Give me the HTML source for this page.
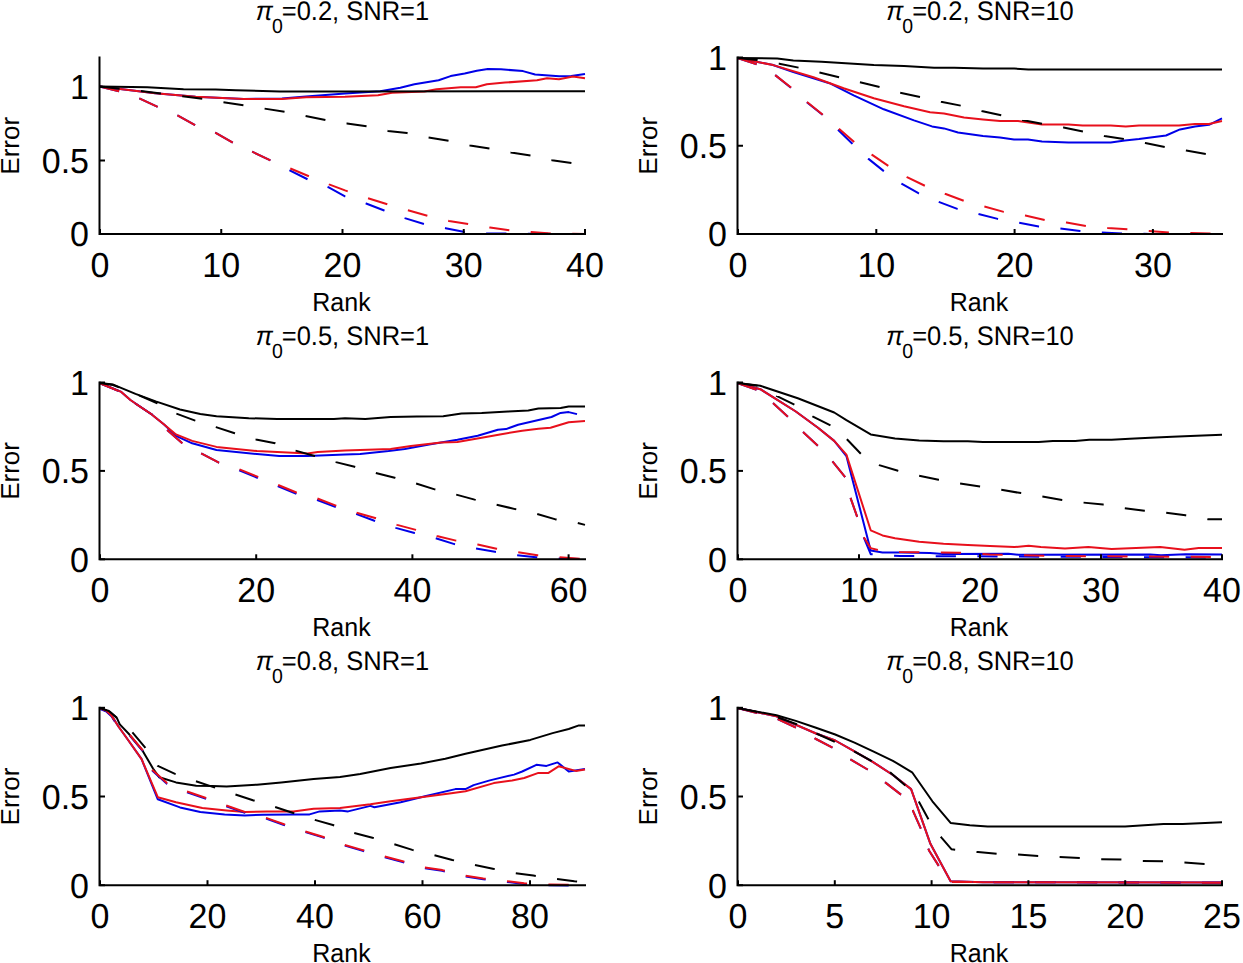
<!DOCTYPE html>
<html><head><meta charset="utf-8"><style>
html,body{margin:0;padding:0;background:#fff;}
body{width:1243px;height:963px;overflow:hidden;}
svg{display:block;text-rendering:geometricPrecision;}
text{font-family:"Liberation Sans",sans-serif;fill:#000;}
.tk{font-size:34px;}
.rk{font-size:25px;}
.er{font-size:26px;}
.tt{font-size:25.5px;}
.sub{font-size:19.5px;}
.pi{font-style:italic;}
</style></head><body>
<svg width="1243" height="963" viewBox="0 0 1243 963">
<rect width="1243" height="963" fill="#fff"/>
<polyline points="99.5,86.5 155.3,93.2 195.6,96.7 243.8,98.9 282.0,98.5 306.0,96.5 345.0,93.6 380.2,91.2 400.3,87.8 414.4,84.2 438.6,80.2 450.6,76.1 464.7,73.5 476.8,70.7 487.8,69.1 500.9,69.3 523.0,71.1 535.1,74.5 559.2,76.3 571.3,76.1 585.0,74.1" fill="none" stroke="#0000e8" stroke-width="2.0" stroke-linejoin="round"/>
<polyline points="99.5,86.5 155.3,93.2 195.6,96.7 243.8,98.9 282.0,98.9 306.2,97.3 345.0,96.7 378.0,95.3 392.0,92.8 424.5,91.6 436.5,89.2 460.7,87.2 475.8,87.2 486.8,84.2 505.0,82.6 537.0,80.2 547.0,78.2 559.0,79.2 573.0,76.6 585.0,78.2" fill="none" stroke="#e8101c" stroke-width="2.0" stroke-linejoin="round"/>
<polyline points="99.5,86.5 147.3,87.2 183.5,89.2 215.7,89.6 235.8,90.2 280.0,91.4 345.0,91.4 585.0,91.2" fill="none" stroke="#000" stroke-width="2.0" stroke-linejoin="round"/>
<polyline points="99.5,86.5 119.0,91.2 139.0,98.3 158.4,107.3 177.5,115.4 195.6,125.4 215.7,132.9 233.4,142.9 252.0,151.6 271.0,160.6 289.7,170.3 307.6,179.3 328.3,187.2 345.0,196.4 366.1,203.5 384.2,210.5 404.8,218.1 424.1,224.0 445.6,228.2 464.7,232.0 486.8,233.4 507.0,233.6 585.0,234.0" fill="none" stroke="#0000e8" stroke-width="2.0" stroke-dasharray="20.2 21.45" stroke-linejoin="round"/>
<polyline points="99.5,86.5 119.0,91.2 139.0,98.3 158.4,107.3 177.5,115.4 195.6,125.4 215.7,132.9 233.4,142.9 252.0,151.6 271.0,160.6 291.0,168.7 309.0,176.3 329.0,184.4 345.0,190.4 368.0,198.2 388.0,204.5 408.0,210.3 428.0,215.9 449.0,221.0 469.0,224.2 490.0,227.6 510.0,230.4 531.0,232.0 551.0,233.4 585.0,234.0" fill="none" stroke="#e8101c" stroke-width="2.0" stroke-dasharray="20.2 21.45" stroke-linejoin="round"/>
<polyline points="99.5,86.5 140.0,91.0 182.5,96.3 202.6,98.9 243.8,105.3 285.0,111.9 325.9,120.0 347.0,123.4 367.0,126.4 388.0,130.9 407.0,133.1 428.5,137.5 449.0,140.9 470.0,145.5 490.0,148.6 511.0,152.6 531.0,155.6 552.0,160.2 572.0,163.2 585.0,165.5" fill="none" stroke="#000" stroke-width="2.0" stroke-dasharray="20.2 21.45" stroke-linejoin="round"/>
<path d="M99.5,57.5 V234 H585" fill="none" stroke="#000" stroke-width="2.0" stroke-linecap="square"/>
<line x1="100" y1="234" x2="100" y2="229" stroke="#000" stroke-width="2.0"/>
<line x1="221.25" y1="234" x2="221.25" y2="229" stroke="#000" stroke-width="2.0"/>
<line x1="342.5" y1="234" x2="342.5" y2="229" stroke="#000" stroke-width="2.0"/>
<line x1="463.75" y1="234" x2="463.75" y2="229" stroke="#000" stroke-width="2.0"/>
<line x1="585" y1="234" x2="585" y2="229" stroke="#000" stroke-width="2.0"/>
<line x1="99.5" y1="234" x2="105" y2="234" stroke="#000" stroke-width="2.0"/>
<line x1="99.5" y1="160.5" x2="105" y2="160.5" stroke="#000" stroke-width="2.0"/>
<line x1="99.5" y1="86.9" x2="105" y2="86.9" stroke="#000" stroke-width="2.0"/>
<text transform="translate(100,276.5) scale(1,1.025)" text-anchor="middle" class="tk">0</text>
<text transform="translate(221.25,276.5) scale(1,1.025)" text-anchor="middle" class="tk">10</text>
<text transform="translate(342.5,276.5) scale(1,1.025)" text-anchor="middle" class="tk">20</text>
<text transform="translate(463.75,276.5) scale(1,1.025)" text-anchor="middle" class="tk">30</text>
<text transform="translate(585,276.5) scale(1,1.025)" text-anchor="middle" class="tk">40</text>
<text transform="translate(89.0,246.4) scale(1,1.025)" text-anchor="end" class="tk">0</text>
<text transform="translate(89.0,172.9) scale(1,1.025)" text-anchor="end" class="tk">0.5</text>
<text transform="translate(89.0,99.30000000000001) scale(1,1.025)" text-anchor="end" class="tk">1</text>
<text transform="translate(341.5,310.7) scale(1,1.05)" text-anchor="middle" class="rk">Rank</text>
<text transform="translate(19.25,145.75) rotate(-90) scale(1,1.0)" text-anchor="middle" class="er">Error</text>
<text transform="translate(342.5,19.5) scale(1,1.05)" text-anchor="middle" class="tt"><tspan class="pi">π</tspan><tspan dx="-1" dy="13" class="sub">0</tspan><tspan dx="-1" dy="-13">=0.2, SNR=1</tspan></text>
<polyline points="737.5,58.0 773.0,65.0 793.3,72.1 829.5,83.2 853.7,95.3 883.8,109.3 914.0,120.4 932.0,126.4 944.0,128.4 958.0,132.5 983.0,136.1 1000.0,137.5 1014.0,139.5 1028.0,139.5 1042.0,141.5 1068.5,142.5 1110.7,142.5 1124.8,140.5 1139.0,139.1 1166.0,135.5 1180.0,129.4 1195.0,126.4 1209.0,124.8 1222.0,118.4" fill="none" stroke="#0000e8" stroke-width="2.0" stroke-linejoin="round"/>
<polyline points="737.5,58.0 773.2,65.1 813.5,77.2 843.6,88.2 873.8,98.3 904.0,106.3 930.0,112.3 944.0,113.4 964.0,117.4 983.0,119.4 1000.0,121.0 1018.0,121.0 1042.0,124.4 1068.5,124.4 1082.6,125.4 1110.7,125.4 1125.8,126.4 1139.0,125.4 1179.0,125.4 1195.0,124.0 1209.0,124.0 1222.0,121.0" fill="none" stroke="#e8101c" stroke-width="2.0" stroke-linejoin="round"/>
<polyline points="737.5,58.0 777.2,58.4 793.3,60.5 821.5,61.7 873.8,65.1 904.0,66.1 934.1,67.7 954.2,67.7 983.0,68.5 1014.2,68.5 1028.3,69.5 1222.0,69.5" fill="none" stroke="#000" stroke-width="2.0" stroke-linejoin="round"/>
<polyline points="737.5,58.0 756.0,64.1 775.2,75.1 790.9,87.8 806.4,101.9 822.5,114.8 837.6,129.4 852.1,143.5 868.2,158.6 883.8,171.1 901.5,183.7 918.4,193.2 938.6,201.8 957.3,208.9 978.0,213.9 997.7,218.9 1018.6,222.6 1038.7,226.4 1060.0,228.4 1080.0,231.0 1101.0,232.4 1122.0,233.4 1150.0,234.0 1222.0,234.0" fill="none" stroke="#0000e8" stroke-width="2.0" stroke-dasharray="20.2 21.45" stroke-linejoin="round"/>
<polyline points="737.5,58.0 756.0,64.0 775.0,75.0 791.0,87.5 806.4,101.5 822.5,114.5 838.6,128.4 854.3,142.1 871.8,154.6 888.5,166.0 907.0,177.1 925.0,185.8 945.0,193.8 963.7,200.8 984.4,206.5 1003.7,211.9 1025.3,215.5 1044.8,220.0 1066.5,222.6 1086.2,226.0 1107.7,228.0 1127.8,229.4 1149.0,231.0 1169.0,232.6 1190.0,233.0 1210.0,233.4 1222.0,233.6" fill="none" stroke="#e8101c" stroke-width="2.0" stroke-dasharray="20.2 21.45" stroke-linejoin="round"/>
<polyline points="737.5,58.0 757.0,60.0 779.3,63.7 799.0,67.7 819.5,72.5 839.0,77.2 860.0,82.2 880.0,87.2 900.0,92.8 920.0,96.9 941.0,101.7 961.0,105.7 981.6,110.9 1001.7,115.4 1022.2,120.0 1042.4,123.8 1063.5,127.4 1083.0,131.5 1104.3,136.1 1124.2,139.1 1145.3,143.1 1165.0,147.1 1186.2,150.6 1206.3,154.0 1222.0,156.5" fill="none" stroke="#000" stroke-width="2.0" stroke-dasharray="20.2 21.45" stroke-linejoin="round"/>
<path d="M737.5,57.5 V234 H1222" fill="none" stroke="#000" stroke-width="2.0" stroke-linecap="square"/>
<line x1="738" y1="234" x2="738" y2="229" stroke="#000" stroke-width="2.0"/>
<line x1="876.3" y1="234" x2="876.3" y2="229" stroke="#000" stroke-width="2.0"/>
<line x1="1014.6" y1="234" x2="1014.6" y2="229" stroke="#000" stroke-width="2.0"/>
<line x1="1152.9" y1="234" x2="1152.9" y2="229" stroke="#000" stroke-width="2.0"/>
<line x1="737.5" y1="234" x2="743" y2="234" stroke="#000" stroke-width="2.0"/>
<line x1="737.5" y1="145.75" x2="743" y2="145.75" stroke="#000" stroke-width="2.0"/>
<line x1="737.5" y1="57.5" x2="743" y2="57.5" stroke="#000" stroke-width="2.0"/>
<text transform="translate(738,276.5) scale(1,1.025)" text-anchor="middle" class="tk">0</text>
<text transform="translate(876.3,276.5) scale(1,1.025)" text-anchor="middle" class="tk">10</text>
<text transform="translate(1014.6,276.5) scale(1,1.025)" text-anchor="middle" class="tk">20</text>
<text transform="translate(1152.9,276.5) scale(1,1.025)" text-anchor="middle" class="tk">30</text>
<text transform="translate(727.0,246.4) scale(1,1.025)" text-anchor="end" class="tk">0</text>
<text transform="translate(727.0,158.15) scale(1,1.025)" text-anchor="end" class="tk">0.5</text>
<text transform="translate(727.0,69.9) scale(1,1.025)" text-anchor="end" class="tk">1</text>
<text transform="translate(979.0,310.7) scale(1,1.05)" text-anchor="middle" class="rk">Rank</text>
<text transform="translate(657.25,145.75) rotate(-90) scale(1,1.0)" text-anchor="middle" class="er">Error</text>
<text transform="translate(980.0,19.5) scale(1,1.05)" text-anchor="middle" class="tt"><tspan class="pi">π</tspan><tspan dx="-1" dy="13" class="sub">0</tspan><tspan dx="-1" dy="-13">=0.2, SNR=10</tspan></text>
<polyline points="99.5,383.0 121.3,391.9 130.4,400.0 151.7,414.5 163.8,424.3 176.0,435.8 192.2,443.3 216.5,450.0 257.0,454.0 279.2,456.0 307.6,456.0 345.0,454.6 360.2,454.0 388.6,451.0 404.8,448.9 429.1,444.5 457.4,439.8 477.7,435.8 497.9,429.7 506.0,429.1 518.1,424.7 551.5,417.0 560.6,412.9 568.7,412.1 577.0,414.1" fill="none" stroke="#0000e8" stroke-width="2.0" stroke-linejoin="round"/>
<polyline points="99.5,383.0 121.3,391.9 130.4,400.0 151.7,414.5 163.8,424.3 176.0,434.4 192.2,440.9 216.5,446.9 257.0,451.0 287.3,452.6 307.6,453.4 317.7,452.0 345.0,450.6 360.2,450.0 390.6,448.9 410.9,445.9 441.2,442.5 457.4,441.9 481.7,437.8 499.9,434.4 522.2,430.7 538.4,428.7 550.5,427.7 568.7,422.2 585.0,421.0" fill="none" stroke="#e8101c" stroke-width="2.0" stroke-linejoin="round"/>
<polyline points="99.5,383.0 113.2,384.6 135.5,393.9 155.7,401.4 180.0,409.5 200.3,414.1 216.5,416.2 248.8,418.2 277.2,419.0 333.9,419.0 345.0,418.2 365.3,419.0 390.6,417.0 416.9,416.6 443.2,416.2 461.5,413.5 481.7,412.9 508.0,411.5 528.3,410.5 538.4,408.5 560.6,408.1 568.7,406.4 585.0,406.4" fill="none" stroke="#000" stroke-width="2.0" stroke-linejoin="round"/>
<polyline points="99.5,383.0 121.0,392.0 130.0,400.0 152.0,414.5 166.9,429.7 182.0,442.9 200.3,453.0 218.9,462.7 239.1,470.3 258.0,478.0 278.2,486.3 296.4,493.9 317.3,500.0 335.9,507.2 356.6,514.1 374.4,520.8 395.7,527.9 414.5,533.0 435.1,538.0 454.4,544.1 475.6,548.5 494.9,551.8 516.5,555.2 536.0,557.2 560.0,558.5 585.0,559.2" fill="none" stroke="#0000e8" stroke-width="2.0" stroke-dasharray="20.2 21.45" stroke-linejoin="round"/>
<polyline points="99.5,383.0 121.0,392.0 130.0,400.0 152.0,414.5 166.9,429.7 182.0,442.9 200.3,453.0 218.9,462.7 239.1,469.2 258.0,476.9 278.2,485.0 296.4,492.5 317.3,498.5 335.9,505.6 356.6,512.7 376.0,518.2 397.1,524.9 415.9,529.9 436.8,536.0 456.0,540.6 477.7,544.5 496.5,548.7 518.1,552.2 537.4,555.2 559.6,557.2 579.9,558.7 585.0,559.0" fill="none" stroke="#e8101c" stroke-width="2.0" stroke-dasharray="20.2 21.45" stroke-linejoin="round"/>
<polyline points="99.5,383.0 113.0,385.0 135.5,393.9 156.7,403.0 176.0,413.5 195.2,420.6 216.0,427.1 234.7,433.2 255.9,439.4 275.2,443.3 295.4,450.6 314.6,456.0 335.9,462.1 354.6,466.8 375.4,472.8 394.7,477.7 415.9,483.4 434.7,489.4 455.8,494.5 474.6,499.6 496.3,504.6 515.1,509.1 536.4,513.7 555.6,519.4 576.8,522.8 585.0,524.9" fill="none" stroke="#000" stroke-width="2.0" stroke-dasharray="20.2 21.45" stroke-linejoin="round"/>
<path d="M99.5,382.5 V559.3 H585" fill="none" stroke="#000" stroke-width="2.0" stroke-linecap="square"/>
<line x1="100" y1="559.3" x2="100" y2="554.3" stroke="#000" stroke-width="2.0"/>
<line x1="256.2" y1="559.3" x2="256.2" y2="554.3" stroke="#000" stroke-width="2.0"/>
<line x1="412.4" y1="559.3" x2="412.4" y2="554.3" stroke="#000" stroke-width="2.0"/>
<line x1="568.6" y1="559.3" x2="568.6" y2="554.3" stroke="#000" stroke-width="2.0"/>
<line x1="99.5" y1="559.3" x2="105" y2="559.3" stroke="#000" stroke-width="2.0"/>
<line x1="99.5" y1="470.9" x2="105" y2="470.9" stroke="#000" stroke-width="2.0"/>
<line x1="99.5" y1="382.5" x2="105" y2="382.5" stroke="#000" stroke-width="2.0"/>
<text transform="translate(100,601.8) scale(1,1.025)" text-anchor="middle" class="tk">0</text>
<text transform="translate(256.2,601.8) scale(1,1.025)" text-anchor="middle" class="tk">20</text>
<text transform="translate(412.4,601.8) scale(1,1.025)" text-anchor="middle" class="tk">40</text>
<text transform="translate(568.6,601.8) scale(1,1.025)" text-anchor="middle" class="tk">60</text>
<text transform="translate(89.0,571.6999999999999) scale(1,1.025)" text-anchor="end" class="tk">0</text>
<text transform="translate(89.0,483.29999999999995) scale(1,1.025)" text-anchor="end" class="tk">0.5</text>
<text transform="translate(89.0,394.9) scale(1,1.025)" text-anchor="end" class="tk">1</text>
<text transform="translate(341.5,636.0) scale(1,1.05)" text-anchor="middle" class="rk">Rank</text>
<text transform="translate(19.25,470.9) rotate(-90) scale(1,1.0)" text-anchor="middle" class="er">Error</text>
<text transform="translate(342.5,344.5) scale(1,1.05)" text-anchor="middle" class="tt"><tspan class="pi">π</tspan><tspan dx="-1" dy="13" class="sub">0</tspan><tspan dx="-1" dy="-13">=0.5, SNR=1</tspan></text>
<polyline points="737.5,383.0 760.3,389.2 795.8,411.5 818.0,427.7 834.2,440.9 846.4,456.0 870.7,550.5 882.5,552.4 901.8,552.4 930.0,553.0 943.0,553.9 1008.4,553.8 1018.5,554.8 1150.0,554.6 1161.0,555.2 1185.5,554.2 1222.0,554.6" fill="none" stroke="#0000e8" stroke-width="2.0" stroke-linejoin="round"/>
<polyline points="737.5,383.0 760.3,389.2 795.8,411.5 818.0,427.7 834.2,440.9 846.4,454.6 870.7,530.3 882.5,535.4 895.0,538.2 919.2,541.7 943.5,543.7 967.8,545.1 990.0,546.1 1014.4,547.1 1028.6,545.7 1040.8,547.1 1065.0,548.5 1088.3,547.1 1111.6,549.1 1135.9,548.1 1160.2,547.1 1184.5,549.8 1198.7,548.1 1222.0,548.1" fill="none" stroke="#e8101c" stroke-width="2.0" stroke-linejoin="round"/>
<polyline points="737.5,383.0 760.3,385.8 797.8,398.3 834.2,412.5 846.4,420.2 870.7,434.4 895.0,438.4 919.2,440.4 943.5,441.3 967.8,441.3 983.0,442.0 1038.7,441.9 1052.9,440.9 1075.2,440.9 1089.3,439.8 1111.6,439.8 1129.8,438.8 1150.1,437.8 1172.3,436.8 1196.6,435.8 1222.0,434.8" fill="none" stroke="#000" stroke-width="2.0" stroke-linejoin="round"/>
<polyline points="737.5,383.0 760.0,391.0 773.5,403.4 788.7,417.6 802.8,431.7 818.0,445.9 832.2,461.1 845.3,477.3 850.4,497.5 857.5,517.8 863.6,537.0 870.7,554.2 900.0,556.0 1222.0,557.5" fill="none" stroke="#0000e8" stroke-width="2.0" stroke-dasharray="20.2 21.45" stroke-linejoin="round"/>
<polyline points="737.5,383.0 760.0,391.0 773.5,403.4 788.7,417.6 802.8,431.7 818.0,445.9 832.2,461.1 845.3,477.3 850.4,497.5 857.5,517.8 863.6,537.0 870.7,548.1 880.0,550.5 900.0,552.0 960.0,552.8 990.0,554.5 1050.0,556.0 1222.0,557.0" fill="none" stroke="#e8101c" stroke-width="2.0" stroke-dasharray="20.2 21.45" stroke-linejoin="round"/>
<polyline points="737.5,383.0 760.0,386.0 776.5,395.9 794.7,404.8 813.0,416.6 831.2,425.7 847.4,439.8 861.0,454.0 870.7,461.0 879.2,465.1 898.0,470.8 918.8,475.7 938.5,479.7 959.7,483.4 980.0,486.4 1001.3,489.8 1020.9,493.1 1042.4,496.5 1062.0,500.0 1083.3,502.6 1103.1,504.6 1124.2,508.1 1144.4,510.7 1165.9,512.7 1185.5,515.3 1207.8,519.2 1222.0,519.2" fill="none" stroke="#000" stroke-width="2.0" stroke-dasharray="20.2 21.45" stroke-linejoin="round"/>
<path d="M737.5,382.5 V559.3 H1222" fill="none" stroke="#000" stroke-width="2.0" stroke-linecap="square"/>
<line x1="738" y1="559.3" x2="738" y2="554.3" stroke="#000" stroke-width="2.0"/>
<line x1="859" y1="559.3" x2="859" y2="554.3" stroke="#000" stroke-width="2.0"/>
<line x1="980" y1="559.3" x2="980" y2="554.3" stroke="#000" stroke-width="2.0"/>
<line x1="1101" y1="559.3" x2="1101" y2="554.3" stroke="#000" stroke-width="2.0"/>
<line x1="1222" y1="559.3" x2="1222" y2="554.3" stroke="#000" stroke-width="2.0"/>
<line x1="737.5" y1="559.3" x2="743" y2="559.3" stroke="#000" stroke-width="2.0"/>
<line x1="737.5" y1="470.9" x2="743" y2="470.9" stroke="#000" stroke-width="2.0"/>
<line x1="737.5" y1="382.5" x2="743" y2="382.5" stroke="#000" stroke-width="2.0"/>
<text transform="translate(738,601.8) scale(1,1.025)" text-anchor="middle" class="tk">0</text>
<text transform="translate(859,601.8) scale(1,1.025)" text-anchor="middle" class="tk">10</text>
<text transform="translate(980,601.8) scale(1,1.025)" text-anchor="middle" class="tk">20</text>
<text transform="translate(1101,601.8) scale(1,1.025)" text-anchor="middle" class="tk">30</text>
<text transform="translate(1222,601.8) scale(1,1.025)" text-anchor="middle" class="tk">40</text>
<text transform="translate(727.0,571.6999999999999) scale(1,1.025)" text-anchor="end" class="tk">0</text>
<text transform="translate(727.0,483.29999999999995) scale(1,1.025)" text-anchor="end" class="tk">0.5</text>
<text transform="translate(727.0,394.9) scale(1,1.025)" text-anchor="end" class="tk">1</text>
<text transform="translate(979.0,636.0) scale(1,1.05)" text-anchor="middle" class="rk">Rank</text>
<text transform="translate(657.25,470.9) rotate(-90) scale(1,1.0)" text-anchor="middle" class="er">Error</text>
<text transform="translate(980.0,344.5) scale(1,1.05)" text-anchor="middle" class="tt"><tspan class="pi">π</tspan><tspan dx="-1" dy="13" class="sub">0</tspan><tspan dx="-1" dy="-13">=0.5, SNR=10</tspan></text>
<polyline points="99.5,708.0 106.0,710.5 111.5,715.6 118.8,727.0 128.1,740.0 141.6,759.2 157.8,799.3 180.0,807.4 200.3,812.0 224.6,814.4 244.8,815.4 263.0,814.8 293.4,814.4 309.6,814.4 319.7,811.4 340.0,810.4 348.1,811.4 370.4,805.9 374.4,807.3 400.7,802.3 425.0,796.2 455.4,789.1 465.5,789.1 473.6,785.1 489.8,780.4 514.1,774.6 522.2,771.5 536.4,764.8 546.5,765.9 557.6,762.4 568.7,771.5 585.0,768.9" fill="none" stroke="#0000e8" stroke-width="2.0" stroke-linejoin="round"/>
<polyline points="99.5,708.0 106.0,710.5 111.5,715.6 118.8,727.0 128.1,740.0 141.6,759.2 157.8,797.2 176.0,802.3 202.3,808.0 226.6,810.4 244.8,812.0 267.1,811.4 293.4,811.4 313.6,808.8 340.0,808.0 370.4,804.3 390.6,801.3 421.0,797.2 451.3,793.2 465.5,791.2 493.8,783.1 512.1,780.4 524.2,778.0 538.4,772.9 548.5,772.9 558.6,766.3 575.8,770.9 585.0,769.5" fill="none" stroke="#e8101c" stroke-width="2.0" stroke-linejoin="round"/>
<polyline points="99.5,708.0 110.5,712.5 116.7,717.7 119.8,724.4 129.2,734.3 142.7,750.9 153.0,768.5 159.3,777.4 161.8,778.0 176.0,782.4 196.2,785.7 212.4,786.1 226.6,786.5 256.9,784.7 281.2,782.4 313.6,779.0 340.0,777.0 360.2,774.0 390.6,767.9 421.0,763.4 445.3,758.8 465.5,753.7 502.0,745.6 530.3,739.9 552.6,733.1 568.7,729.0 578.9,725.4 585.0,725.4" fill="none" stroke="#000" stroke-width="2.0" stroke-linejoin="round"/>
<polyline points="99.5,708.7 106.0,711.2 111.5,716.3 118.8,727.7 130.2,736.2 143.7,752.2 152.7,771.0 166.9,783.8 186.1,791.9 205.3,798.5 225.6,806.0 244.8,812.7 265.0,818.2 283.3,824.7 303.9,831.7 322.7,837.4 343.0,845.1 361.9,850.6 382.5,856.6 401.7,861.7 422.0,867.8 442.2,870.8 462.5,875.9 483.3,879.3 503.6,881.5 524.2,884.0 545.5,885.2 585.0,885.7" fill="none" stroke="#0000e8" stroke-width="2.0" stroke-dasharray="20.2 21.45" stroke-linejoin="round"/>
<polyline points="99.5,708.0 106.0,710.5 111.5,715.6 118.8,727.0 130.2,735.5 143.7,751.5 152.7,770.3 166.9,783.1 186.1,791.2 205.3,797.8 225.6,805.3 244.8,812.0 265.0,817.5 283.3,824.0 303.9,831.0 322.7,836.7 343.0,844.4 361.9,849.9 382.5,855.9 401.7,861.0 422.0,867.1 442.2,870.1 462.5,875.2 483.3,878.6 503.6,880.8 524.2,883.3 545.5,884.5 585.0,885.0" fill="none" stroke="#e8101c" stroke-width="2.0" stroke-dasharray="20.2 21.45" stroke-linejoin="round"/>
<polyline points="99.5,708.0 109.0,711.0 116.0,717.0 132.4,732.4 145.6,748.0 157.8,765.9 175.0,773.9 195.2,781.0 213.4,787.1 234.7,794.2 252.9,800.3 274.2,806.7 292.4,812.8 313.6,819.5 332.9,825.0 353.2,832.7 372.4,837.7 393.0,843.8 412.3,849.9 433.1,854.9 452.3,860.0 473.2,864.6 492.8,868.7 514.1,873.1 533.3,875.6 555.0,878.8 574.4,881.2 585.0,882.0" fill="none" stroke="#000" stroke-width="2.0" stroke-dasharray="20.2 21.45" stroke-linejoin="round"/>
<path d="M99.5,707.8 V885.2 H585" fill="none" stroke="#000" stroke-width="2.0" stroke-linecap="square"/>
<line x1="100" y1="885.2" x2="100" y2="880.2" stroke="#000" stroke-width="2.0"/>
<line x1="207.5" y1="885.2" x2="207.5" y2="880.2" stroke="#000" stroke-width="2.0"/>
<line x1="315" y1="885.2" x2="315" y2="880.2" stroke="#000" stroke-width="2.0"/>
<line x1="422.5" y1="885.2" x2="422.5" y2="880.2" stroke="#000" stroke-width="2.0"/>
<line x1="530" y1="885.2" x2="530" y2="880.2" stroke="#000" stroke-width="2.0"/>
<line x1="99.5" y1="885.2" x2="105" y2="885.2" stroke="#000" stroke-width="2.0"/>
<line x1="99.5" y1="796.5" x2="105" y2="796.5" stroke="#000" stroke-width="2.0"/>
<line x1="99.5" y1="707.8" x2="105" y2="707.8" stroke="#000" stroke-width="2.0"/>
<text transform="translate(100,927.7) scale(1,1.025)" text-anchor="middle" class="tk">0</text>
<text transform="translate(207.5,927.7) scale(1,1.025)" text-anchor="middle" class="tk">20</text>
<text transform="translate(315,927.7) scale(1,1.025)" text-anchor="middle" class="tk">40</text>
<text transform="translate(422.5,927.7) scale(1,1.025)" text-anchor="middle" class="tk">60</text>
<text transform="translate(530,927.7) scale(1,1.025)" text-anchor="middle" class="tk">80</text>
<text transform="translate(89.0,897.6) scale(1,1.025)" text-anchor="end" class="tk">0</text>
<text transform="translate(89.0,808.9) scale(1,1.025)" text-anchor="end" class="tk">0.5</text>
<text transform="translate(89.0,720.1999999999999) scale(1,1.025)" text-anchor="end" class="tk">1</text>
<text transform="translate(341.5,961.9000000000001) scale(1,1.05)" text-anchor="middle" class="rk">Rank</text>
<text transform="translate(19.25,796.5) rotate(-90) scale(1,1.0)" text-anchor="middle" class="er">Error</text>
<text transform="translate(342.5,669.8) scale(1,1.05)" text-anchor="middle" class="tt"><tspan class="pi">π</tspan><tspan dx="-1" dy="13" class="sub">0</tspan><tspan dx="-1" dy="-13">=0.8, SNR=1</tspan></text>
<polyline points="737.5,708.0 776.5,716.3 816.0,733.5 835.2,740.5 854.5,751.3 872.7,761.8 892.9,775.0 911.1,789.1 930.4,843.8 950.6,881.2 983.0,882.2 1222.0,882.6" fill="none" stroke="#0000e8" stroke-width="2.0" stroke-linejoin="round"/>
<polyline points="737.5,708.0 776.5,716.3 816.0,733.5 835.2,740.5 854.5,751.3 872.7,761.8 892.9,775.0 911.1,789.1 930.4,843.8 950.6,881.2 983.0,882.2 1222.0,882.6" fill="none" stroke="#e8101c" stroke-width="2.0" stroke-linejoin="round"/>
<polyline points="737.5,708.0 776.5,715.2 795.8,720.9 816.0,727.8 835.2,734.5 854.5,742.6 873.7,751.7 892.9,760.8 912.1,772.3 932.4,801.3 950.6,822.9 969.8,825.2 987.6,826.6 1125.1,826.6 1163.5,824.0 1182.7,824.0 1222.0,822.3" fill="none" stroke="#000" stroke-width="2.0" stroke-linejoin="round"/>
<polyline points="737.5,708.0 757.0,713.0 777.5,718.9 796.2,727.8 815.0,738.5 832.6,747.6 850.4,759.4 867.6,769.5 885.2,782.4 901.0,794.6 911.0,800.0 913.2,811.4 921.3,829.6 929.0,850.5 939.5,867.1 950.6,882.0 1222.0,882.8" fill="none" stroke="#0000e8" stroke-width="2.0" stroke-dasharray="20.2 21.45" stroke-linejoin="round"/>
<polyline points="737.5,708.0 757.0,713.0 777.5,718.9 796.2,727.8 815.0,738.5 832.6,747.6 850.4,759.4 867.6,769.5 885.2,782.4 901.0,794.6 911.0,800.0 913.2,811.4 921.3,829.6 929.0,850.5 939.5,867.1 950.6,882.0 1222.0,882.8" fill="none" stroke="#e8101c" stroke-width="2.0" stroke-dasharray="20.2 21.45" stroke-linejoin="round"/>
<polyline points="737.5,708.0 757.0,712.0 776.5,717.0 796.0,724.0 815.6,733.1 834.2,741.6 854.0,751.3 872.3,761.4 890.9,772.9 907.1,787.1 912.0,790.0 919.2,802.3 928.3,818.9 932.0,826.0 941.5,837.7 951.6,849.3 978.0,852.1 996.8,853.8 1018.1,854.5 1038.1,856.0 1059.7,857.0 1079.7,858.1 1101.2,859.2 1121.3,859.6 1142.8,860.9 1162.9,861.3 1184.4,862.6 1204.4,863.9 1222.0,864.5" fill="none" stroke="#000" stroke-width="2.0" stroke-dasharray="20.2 21.45" stroke-linejoin="round"/>
<path d="M737.5,707.8 V885.2 H1222" fill="none" stroke="#000" stroke-width="2.0" stroke-linecap="square"/>
<line x1="738" y1="885.2" x2="738" y2="880.2" stroke="#000" stroke-width="2.0"/>
<line x1="834.8" y1="885.2" x2="834.8" y2="880.2" stroke="#000" stroke-width="2.0"/>
<line x1="931.6" y1="885.2" x2="931.6" y2="880.2" stroke="#000" stroke-width="2.0"/>
<line x1="1028.4" y1="885.2" x2="1028.4" y2="880.2" stroke="#000" stroke-width="2.0"/>
<line x1="1125.2" y1="885.2" x2="1125.2" y2="880.2" stroke="#000" stroke-width="2.0"/>
<line x1="1222" y1="885.2" x2="1222" y2="880.2" stroke="#000" stroke-width="2.0"/>
<line x1="737.5" y1="885.2" x2="743" y2="885.2" stroke="#000" stroke-width="2.0"/>
<line x1="737.5" y1="796.5" x2="743" y2="796.5" stroke="#000" stroke-width="2.0"/>
<line x1="737.5" y1="707.8" x2="743" y2="707.8" stroke="#000" stroke-width="2.0"/>
<text transform="translate(738,927.7) scale(1,1.025)" text-anchor="middle" class="tk">0</text>
<text transform="translate(834.8,927.7) scale(1,1.025)" text-anchor="middle" class="tk">5</text>
<text transform="translate(931.6,927.7) scale(1,1.025)" text-anchor="middle" class="tk">10</text>
<text transform="translate(1028.4,927.7) scale(1,1.025)" text-anchor="middle" class="tk">15</text>
<text transform="translate(1125.2,927.7) scale(1,1.025)" text-anchor="middle" class="tk">20</text>
<text transform="translate(1222,927.7) scale(1,1.025)" text-anchor="middle" class="tk">25</text>
<text transform="translate(727.0,897.6) scale(1,1.025)" text-anchor="end" class="tk">0</text>
<text transform="translate(727.0,808.9) scale(1,1.025)" text-anchor="end" class="tk">0.5</text>
<text transform="translate(727.0,720.1999999999999) scale(1,1.025)" text-anchor="end" class="tk">1</text>
<text transform="translate(979.0,961.9000000000001) scale(1,1.05)" text-anchor="middle" class="rk">Rank</text>
<text transform="translate(657.25,796.5) rotate(-90) scale(1,1.0)" text-anchor="middle" class="er">Error</text>
<text transform="translate(980.0,669.8) scale(1,1.05)" text-anchor="middle" class="tt"><tspan class="pi">π</tspan><tspan dx="-1" dy="13" class="sub">0</tspan><tspan dx="-1" dy="-13">=0.8, SNR=10</tspan></text>
</svg>
</body></html>
